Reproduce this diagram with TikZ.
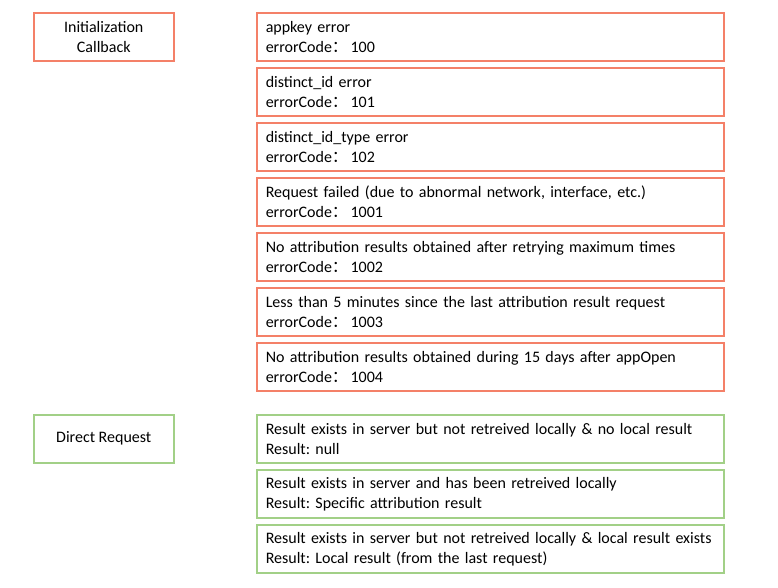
\documentclass[tikz,border=0pt]{standalone}
\usepackage{fontspec}
\setmainfont{Carlito}
\newfontfamily\cjk{Noto Sans CJK SC}
\definecolor{redline}{RGB}{244,128,104}
\definecolor{greenline}{RGB}{162,208,135}
\newcommand{\ec}[1]{errorCode{\cjk ：}\,#1}
\frenchspacing
\begin{document}
\begin{tikzpicture}[x=1pt,y=-1pt,
  base/.style={draw, line width=1.5pt, inner ysep=0pt, minimum height=48pt,
    font=\fontsize{16pt}{20pt}\selectfont\frenchspacing, anchor=north west, text=black},
  leftbox/.style={base, minimum width=140pt, align=center},
  rightbox/.style={base, text width=449pt, inner xsep=9pt, align=left},
  red/.style={draw=redline},
  green/.style={draw=greenline}]
\useasboundingbox (0,0) rectangle (778,587);
\node[leftbox, red] (init) at (33,12) {Initialization\\Callback};
\node[rightbox, red] (e100) at (256,12) {appkey error\\\ec{100}};
\node[rightbox, red] (e101) at (256,67) {distinct\_id error\\\ec{101}};
\node[rightbox, red] (e102) at (256,122) {distinct\_id\_type error\\\ec{102}};
\node[rightbox, red] (e1001) at (256,177) {Request failed (due to abnormal network, interface, etc.)\\\ec{1001}};
\node[rightbox, red] (e1002) at (256,232) {No attribution results obtained after retrying maximum times\\\ec{1002}};
\node[rightbox, red] (e1003) at (256,287) {Less than 5 minutes since the last attribution result request\\\ec{1003}};
\node[rightbox, red] (e1004) at (256,342) {No attribution results obtained during 15 days after appOpen\\\ec{1004}};
\node[leftbox, green] (direct) at (33,414) {Direct Request};
\node[rightbox, green] (r1) at (256,414) {Result exists in server but not retreived locally \& no local result\\Result: null};
\node[rightbox, green] (r2) at (256,469) {Result exists in server and has been retreived locally\\Result: Specific attribution result};
\node[rightbox, green] (r3) at (256,524) {Result exists in server but not retreived locally \& local result exists\\Result: Local result (from the last request)};
\end{tikzpicture}
\end{document}
